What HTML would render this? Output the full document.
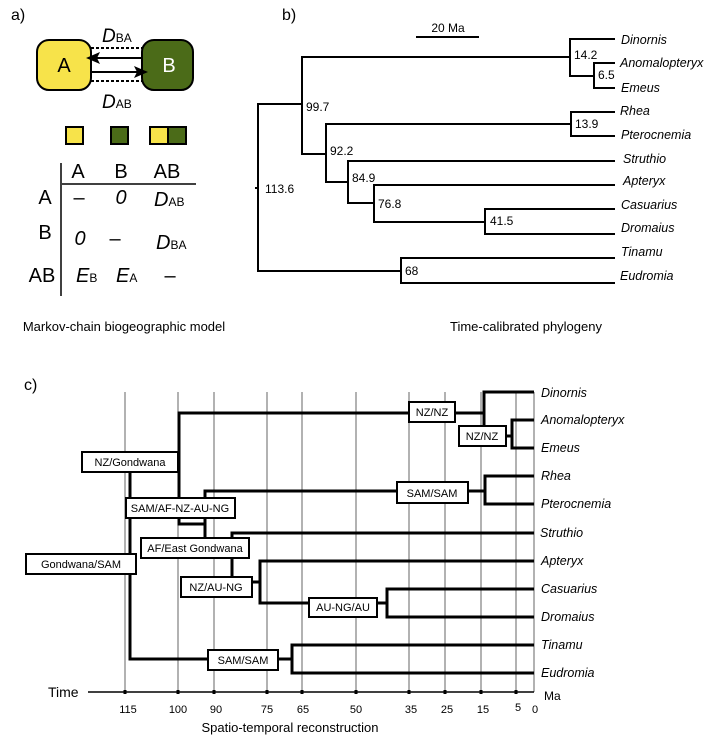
<!DOCTYPE html>
<html><head><meta charset="utf-8"><style>
html,body{margin:0;padding:0;background:#fff;}
svg{display:block;font-family:"Liberation Sans",Arial,sans-serif;}
.tx{font-style:italic;font-size:12.5px;}
.bl{font-size:11px;}
.nl{font-size:12px;}
</style></head><body>
<svg width="709" height="741" viewBox="0 0 709 741" xmlns="http://www.w3.org/2000/svg">
<!-- ===== a) ===== -->
<text x="11" y="20" font-size="16">a)</text>
<rect x="37" y="40" width="54" height="50" rx="12" fill="#f7e34a" stroke="#000" stroke-width="2"/>
<rect x="142" y="40" width="51" height="50" rx="12" fill="#4b6b18" stroke="#000" stroke-width="2"/>
<text x="64" y="72" font-size="20" text-anchor="middle">A</text>
<text x="169" y="72" font-size="20" text-anchor="middle" fill="#fff">B</text>
<line x1="91" y1="48" x2="142" y2="48" stroke="#000" stroke-width="2" stroke-dasharray="3,2"/>
<line x1="91" y1="81" x2="142" y2="81" stroke="#000" stroke-width="2" stroke-dasharray="3,2"/>
<line x1="96" y1="58" x2="142" y2="58" stroke="#000" stroke-width="2"/>
<polygon points="86,58 100,52 97,58 100,64" fill="#000"/>
<line x1="91" y1="72" x2="138" y2="72" stroke="#000" stroke-width="2"/>
<polygon points="148,72 134,66 137,72 134,78" fill="#000"/>
<text x="102" y="42" font-size="19" font-style="italic">D<tspan font-size="12" font-style="normal">BA</tspan></text>
<text x="102" y="108" font-size="19" font-style="italic">D<tspan font-size="12" font-style="normal">AB</tspan></text>
<rect x="66" y="127" width="17" height="17" fill="#f7e34a" stroke="#000" stroke-width="2"/>
<rect x="111" y="127" width="17" height="17" fill="#4b6b18" stroke="#000" stroke-width="2"/>
<rect x="150" y="127" width="18" height="17" fill="#f7e34a" stroke="#000" stroke-width="2"/>
<rect x="168" y="127" width="18" height="17" fill="#4b6b18" stroke="#000" stroke-width="2"/>
<line x1="61" y1="163" x2="61" y2="296" stroke="#000" stroke-width="1.5"/>
<line x1="62" y1="184" x2="196" y2="184" stroke="#000" stroke-width="1.5"/>
<g font-size="20">
<text x="78" y="178" text-anchor="middle">A</text>
<text x="121" y="178" text-anchor="middle">B</text>
<text x="167" y="178" text-anchor="middle">AB</text>
<text x="45" y="204" text-anchor="middle">A</text>
<text x="45" y="239" text-anchor="middle">B</text>
<text x="42" y="282" text-anchor="middle">AB</text>
<text x="79" y="204" text-anchor="middle">–</text>
<text x="121" y="204" text-anchor="middle" font-style="italic">0</text>
<text x="154" y="206" font-style="italic">D<tspan font-size="12" font-style="normal">AB</tspan></text>
<text x="80" y="245" text-anchor="middle" font-style="italic">0</text>
<text x="115" y="245" text-anchor="middle">–</text>
<text x="156" y="249" font-style="italic">D<tspan font-size="12" font-style="normal">BA</tspan></text>
<text x="76" y="282" font-style="italic">E<tspan font-size="12" font-style="normal">B</tspan></text>
<text x="116" y="282" font-style="italic">E<tspan font-size="12" font-style="normal">A</tspan></text>
<text x="170" y="282" text-anchor="middle">–</text>
</g>
<text x="124" y="331" font-size="13" text-anchor="middle">Markov-chain biogeographic model</text>

<!-- ===== b) ===== -->
<text x="282" y="20" font-size="16">b)</text>
<line x1="416" y1="37" x2="479" y2="37" stroke="#000" stroke-width="2"/>
<text x="448" y="32" font-size="12" text-anchor="middle">20 Ma</text>
<g stroke="#000" stroke-width="2" fill="none">
<line x1="255" y1="188" x2="258" y2="188"/>
<polyline points="302,104 258,104 258,271 401,271"/>
<polyline points="570,57 302,57 302,154 326,154"/>
<polyline points="615,39 570,39 570,76 594,76"/>
<polyline points="615,63 594,63 594,88 615,88"/>
<polyline points="571,124 326,124 326,182 348,182"/>
<polyline points="615,112 571,112 571,136 615,136"/>
<polyline points="615,161 348,161 348,203 374,203"/>
<polyline points="615,185 374,185 374,222 485,222"/>
<polyline points="615,209 485,209 485,234 615,234"/>
<polyline points="615,258 401,258 401,283 615,283"/>
</g>
<g class="nl">
<text x="265" y="193">113.6</text>
<text x="306" y="111">99.7</text>
<text x="330" y="155">92.2</text>
<text x="352" y="182">84.9</text>
<text x="378" y="208">76.8</text>
<text x="490" y="225">41.5</text>
<text x="405" y="275">68</text>
<text x="574" y="59">14.2</text>
<text x="598" y="79">6.5</text>
<text x="575" y="128">13.9</text>
</g>
<g class="tx">
<text x="621" y="44">Dinornis</text>
<text x="620" y="67">Anomalopteryx</text>
<text x="621" y="92">Emeus</text>
<text x="620" y="115">Rhea</text>
<text x="621" y="139">Pterocnemia</text>
<text x="623" y="163">Struthio</text>
<text x="623" y="185">Apteryx</text>
<text x="621" y="209">Casuarius</text>
<text x="621" y="232">Dromaius</text>
<text x="621" y="256">Tinamu</text>
<text x="620" y="280">Eudromia</text>
</g>
<text x="526" y="331" font-size="13" text-anchor="middle">Time-calibrated phylogeny</text>

<!-- ===== c) ===== -->
<text x="24" y="390" font-size="16">c)</text>
<g stroke="#555" stroke-width="0.9">
<line x1="125" y1="392" x2="125" y2="692"/>
<line x1="178" y1="392" x2="178" y2="692"/>
<line x1="214" y1="392" x2="214" y2="692"/>
<line x1="267" y1="392" x2="267" y2="692"/>
<line x1="302" y1="392" x2="302" y2="692"/>
<line x1="356" y1="392" x2="356" y2="692"/>
<line x1="409" y1="392" x2="409" y2="692"/>
<line x1="445" y1="392" x2="445" y2="692"/>
<line x1="481" y1="392" x2="481" y2="692"/>
<line x1="516" y1="392" x2="516" y2="692"/>
<line x1="534" y1="392" x2="534" y2="692"/>
</g>
<line x1="88" y1="692" x2="534" y2="692" stroke="#000" stroke-width="1.5"/>
<g fill="#000">
<rect x="123.5" y="690" width="3" height="4"/><rect x="176.5" y="690" width="3" height="4"/>
<rect x="212.5" y="690" width="3" height="4"/><rect x="265.5" y="690" width="3" height="4"/>
<rect x="300.5" y="690" width="3" height="4"/><rect x="354.5" y="690" width="3" height="4"/>
<rect x="407.5" y="690" width="3" height="4"/><rect x="443.5" y="690" width="3" height="4"/>
<rect x="479.5" y="690" width="3" height="4"/><rect x="514.5" y="690" width="3" height="4"/>
</g>
<text x="48" y="697" font-size="14">Time</text>
<text x="544" y="700" font-size="12">Ma</text>
<g font-size="11" text-anchor="middle">
<text x="128" y="713">115</text><text x="178" y="713">100</text><text x="216" y="713">90</text>
<text x="267" y="713">75</text><text x="303" y="713">65</text><text x="356" y="713">50</text>
<text x="411" y="713">35</text><text x="447" y="713">25</text><text x="483" y="713">15</text>
<text x="518" y="711">5</text><text x="535" y="713">0</text>
</g>
<text x="290" y="732" font-size="13" text-anchor="middle">Spatio-temporal reconstruction</text>

<g stroke="#000" stroke-width="3" fill="none">
<polyline points="534,392 484,392 484,430"/>
<polyline points="484,413 179,413 179,524 205,524"/>
<polyline points="534,420 512,420 512,448 534,448"/>
<line x1="506" y1="436" x2="512" y2="436"/>
<polyline points="534,476 485,476 485,504 534,504"/>
<polyline points="485,491 205,491 205,540"/>
<polyline points="534,533 232,533 232,578"/>
<polyline points="534,561 260,561 260,603 309,603"/>
<line x1="252" y1="582" x2="260" y2="582"/>
<polyline points="534,589 387,589 387,617 534,617"/>
<line x1="377" y1="603" x2="387" y2="603"/>
<polyline points="130,472 130,659 208,659"/>
<polyline points="534,645 292,645 292,673 534,673"/>
<line x1="278" y1="659" x2="292" y2="659"/>
</g>
<g stroke="#000" stroke-width="2" fill="#fff">
<rect x="409" y="402" width="46" height="20"/>
<rect x="459" y="426" width="47" height="20"/>
<rect x="82" y="452" width="96" height="20"/>
<rect x="397" y="482" width="71" height="21"/>
<rect x="126" y="498" width="109" height="20"/>
<rect x="141" y="538" width="108" height="20"/>
<rect x="26" y="554" width="110" height="20"/>
<rect x="181" y="577" width="71" height="20"/>
<rect x="309" y="598" width="68" height="19"/>
<rect x="208" y="650" width="70" height="20"/>
</g>
<g class="bl" text-anchor="middle">
<text x="432" y="416">NZ/NZ</text>
<text x="482" y="440">NZ/NZ</text>
<text x="130" y="466">NZ/Gondwana</text>
<text x="432" y="497">SAM/SAM</text>
<text x="180" y="512">SAM/AF-NZ-AU-NG</text>
<text x="195" y="552">AF/East Gondwana</text>
<text x="81" y="568">Gondwana/SAM</text>
<text x="216" y="591">NZ/AU-NG</text>
<text x="343" y="611">AU-NG/AU</text>
<text x="243" y="664">SAM/SAM</text>
</g>
<g class="tx">
<text x="541" y="397">Dinornis</text>
<text x="541" y="424">Anomalopteryx</text>
<text x="541" y="452">Emeus</text>
<text x="541" y="480">Rhea</text>
<text x="541" y="508">Pterocnemia</text>
<text x="540" y="537">Struthio</text>
<text x="541" y="565">Apteryx</text>
<text x="541" y="593">Casuarius</text>
<text x="541" y="621">Dromaius</text>
<text x="541" y="649">Tinamu</text>
<text x="541" y="677">Eudromia</text>
</g>
</svg>
</body></html>
